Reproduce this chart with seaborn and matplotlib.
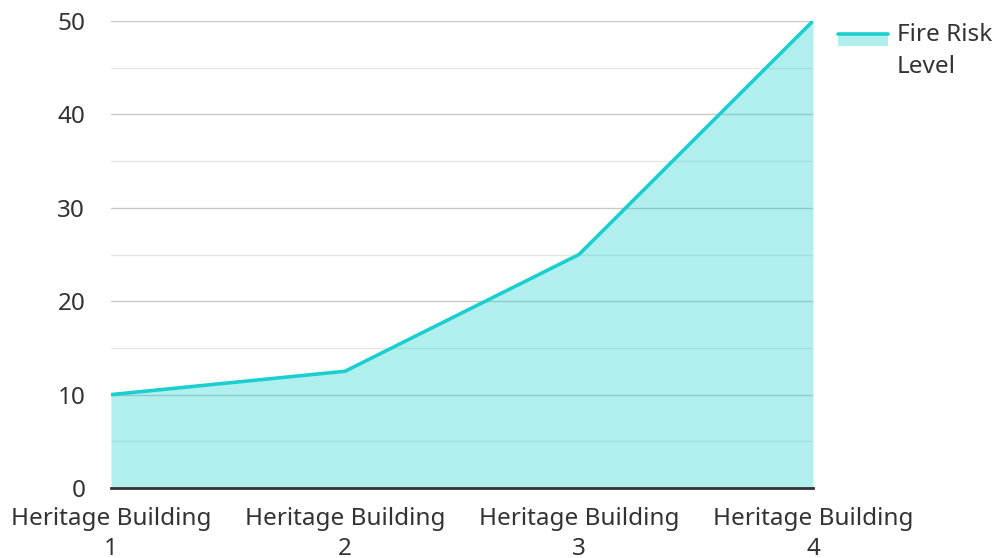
import numpy as np
import pandas as pd
import matplotlib.pyplot as plt
import seaborn as sns
from matplotlib.lines import Line2D
from matplotlib.patches import Rectangle
from matplotlib.legend_handler import HandlerBase
from matplotlib.ticker import MultipleLocator

# dane
buildings = ['Heritage Building\n1', 'Heritage Building\n2', 'Heritage Building\n3', 'Heritage Building\n4']
fire_risk = [10, 12.5, 25, 50]
series_name = 'Fire Risk\nLevel'

sns.set_style("white")
plt.rcParams['font.family'] = ['Noto Sans', 'DejaVu Sans']

df = pd.DataFrame({'building': buildings, 'risk': fire_risk})
df['pos'] = range(len(df))

line_color = '#1ccfcf'
fill_color = '#1ccfcf'
text_color = '#333333'


# uchwyt legendy: linia na górze, wypełnienie pod nią
class AreaHandler(HandlerBase):
    def create_artists(self, legend, orig_handle, xdescent, ydescent, width, height, fontsize, trans):
        y_line = height / 2 + 12.5
        rect = Rectangle((-xdescent, y_line - 8.6), width, 8.6, facecolor=fill_color,
                         alpha=0.34, edgecolor='none', transform=trans)
        line = Line2D([-xdescent, -xdescent + width], [y_line, y_line], color=line_color,
                      linewidth=2.6, transform=trans)
        return [rect, line]


fig = plt.figure(figsize=(9.99, 5.58), dpi=100)
ax = fig.add_axes([0.1111, 0.1254, 0.7027, 0.837])

ax.fill_between(df['pos'], df['risk'], 0, color=fill_color, alpha=0.34, linewidth=0, zorder=2)
sns.lineplot(data=df, x='pos', y='risk', color=line_color, linewidth=2.6, ax=ax, zorder=3)

ax.set_xlim(0, len(df) - 1)
ax.set_ylim(0, 50)
ax.yaxis.set_major_locator(MultipleLocator(10))
ax.yaxis.set_minor_locator(MultipleLocator(5))
ax.grid(True, which='major', axis='y', color='#c8c8c8', linewidth=1.0, zorder=2.5)
ax.grid(True, which='minor', axis='y', color='#e6e6e6', linewidth=1.0, zorder=2.5)
ax.set_xticks(df['pos'])
ax.set_xticklabels(df['building'], fontsize=17.5, color=text_color, linespacing=1.33)
ax.tick_params(axis='y', labelsize=17.5, labelcolor=text_color, length=0, pad=18.5)
ax.tick_params(axis='x', length=0, pad=14)
ax.tick_params(axis='y', which='minor', length=0)
ax.set_xlabel('')
ax.set_ylabel('')

for s in ['left', 'right', 'top']:
    ax.spines[s].set_visible(False)
ax.spines['bottom'].set_color('#333333')
ax.spines['bottom'].set_linewidth(2)
ax.spines['bottom'].set_zorder(4)

leg = fig.legend(['area'], [series_name], handler_map={str: AreaHandler()},
                 loc='upper left', bbox_to_anchor=(0.839, 0.959), borderpad=0, borderaxespad=0,
                 frameon=False, fontsize=17.5, handlelength=2.05, handletextpad=0.37,
                 labelcolor=text_color, labelspacing=0.2)
for t in leg.get_texts():
    t.set_linespacing(1.45)

fig.savefig('out.png', dpi=100)
